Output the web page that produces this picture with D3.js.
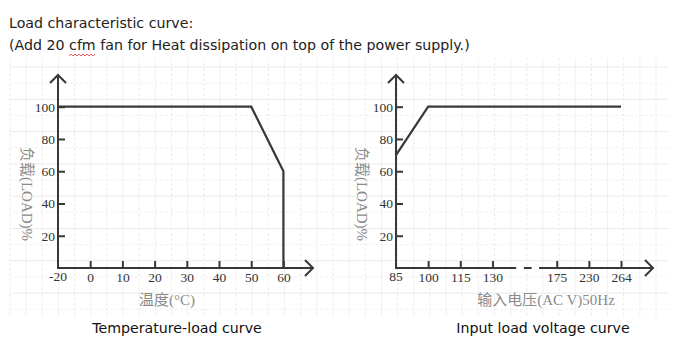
<!DOCTYPE html>
<html>
<head>
<meta charset="utf-8">
<script src="https://cdn.jsdelivr.net/npm/d3@7"></script>
<style>
  html, body { margin: 0; padding: 0; background: #fff; }
  svg { display: block; }
</style>
</head>
<body>
<div id="chart"></div>
<script>
// Temperature derating curve
const tempTicks = ['-20', '0', '10', '20', '30', '40', '50', '60'];
const tempLoad = [
    { t: '-20', load: 100 },
    { t: '50', load: 100 },
    { t: '60', load: 60 },
    { t: '60', load: 0 }
];

// Input voltage derating curve ('gap' is the axis break slot)
const voltSlots = ['85', '100', '115', '130', 'gap', '175', '230', '264'];
const voltLoad = [
    { v: '85', load: 70 },
    { v: '100', load: 100 },
    { v: '264', load: 100 }
];

const loadTicks = [20, 40, 60, 80, 100];

const W = 693, H = 350;
const ink = '#383838';
const serif = '"Liberation Serif", "Noto Sans CJK SC", serif';
const sans = '"DejaVu Sans", Verdana, sans-serif';

const svg = d3.select('#chart').append('svg')
    .attr('width', W)
    .attr('height', H);

// Background grid
const grid = svg.append('g').attr('class', 'grid');
const gx0 = 10, gx1 = 668, gy0 = 58, gy1 = 316;
const gStep = 16.15;
d3.range(gx0, gx1 + 1, gStep).forEach((x, i) => {
    grid.append('line')
        .attr('x1', x).attr('x2', x).attr('y1', gy0).attr('y2', gy1)
        .attr('stroke', i % 2 ? '#f1f1f1' : '#ebebeb')
        .attr('stroke-dasharray', i % 2 ? null : '3,2');
});
d3.range(gy0 + 9, gy1 + 1, gStep).forEach((y, i) => {
    grid.append('line')
        .attr('x1', gx0).attr('x2', gx1).attr('y1', y).attr('y2', y)
        .attr('stroke', i % 2 ? '#f1f1f1' : '#ebebeb')
        .attr('stroke-dasharray', i % 2 ? '3,2' : null);
});

// Title text
svg.append('text')
    .attr('x', 9).attr('y', 28)
    .style('font-family', sans)
    .style('font-size', '14.2px')
    .attr('fill', '#222')
    .text('Load characteristic curve:');
const sub = svg.append('text')
    .attr('x', 9).attr('y', 50)
    .style('font-family', sans)
    .style('font-size', '14.2px')
    .attr('fill', '#222')
    .text('(Add 20 cfm fan for Heat dissipation on top of the power supply.)');

// spell-check squiggle under "cfm"
const subNode = sub.node();
const cfmStart = subNode.textContent.indexOf('cfm');
const sx0 = 9 + subNode.getSubStringLength(0, cfmStart);
const sx1 = sx0 + subNode.getSubStringLength(cfmStart, 3);
const wave = d3.range(sx0, sx1, 2).map((x, i) => [x, i % 2 ? 54 : 56]);
svg.append('path')
    .attr('d', d3.line()(wave))
    .attr('fill', 'none')
    .attr('stroke', '#e03030')
    .attr('stroke-width', 0.8);

const yScale = d3.scaleLinear().domain([0, 100]).range([268, 106.7]);

function styleLabels(sel) {
    sel.attr('fill', '#333')
        .style('font-family', serif)
        .style('font-size', '13.5px');
}

function drawPanel(opts) {
    const g = svg.append('g');
    const x = opts.x;
    const x0 = x.range()[0];
    const y0 = yScale(0);

    // y axis ticks + labels
    g.append('g')
        .attr('transform', 'translate(' + x0 + ',0)')
        .call(d3.axisLeft(yScale).tickValues(loadTicks).tickSize(-7).tickPadding(3))
        .call(a => a.select('.domain').remove())
        .call(a => a.selectAll('line').attr('stroke', ink).attr('stroke-width', 2))
        .call(a => styleLabels(a.selectAll('text')));

    // x axis ticks + labels
    g.append('g')
        .attr('transform', 'translate(0,' + y0 + ')')
        .call(d3.axisBottom(x).tickValues(opts.ticks).tickSize(-7).tickPadding(4))
        .call(a => a.select('.domain').remove())
        .call(a => a.selectAll('line').attr('stroke', ink).attr('stroke-width', 2))
        .call(a => styleLabels(a.selectAll('text')));

    // origin label sits at the axis corner, no tick
    g.append('text')
        .attr('x', x0).attr('y', y0 + 12.5)
        .attr('text-anchor', 'middle')
        .call(styleLabels)
        .text(x.domain()[0]);

    // y axis with arrow
    g.append('path')
        .attr('d', 'M' + x0 + ',' + (y0 + 1) + 'V75M' + (x0 - 8) + ',83L' + x0 + ',75L' + (x0 + 8) + ',83')
        .attr('fill', 'none').attr('stroke', ink).attr('stroke-width', 2);

    // x axis segments with arrow
    const xEnd = opts.xEnd;
    opts.segments.forEach(s => {
        g.append('line')
            .attr('x1', s[0]).attr('x2', s[1]).attr('y1', y0).attr('y2', y0)
            .attr('stroke', ink).attr('stroke-width', 2);
    });
    g.append('path')
        .attr('d', 'M' + (xEnd - 8) + ',' + (y0 - 8) + 'L' + xEnd + ',' + y0 + 'L' + (xEnd - 8) + ',' + (y0 + 8))
        .attr('fill', 'none').attr('stroke', ink).attr('stroke-width', 2);

    // load curve
    g.append('path')
        .datum(opts.data)
        .attr('d', d3.line().x(d => x(d[opts.key])).y(d => yScale(d.load)))
        .attr('fill', 'none').attr('stroke', ink).attr('stroke-width', 2.2)
        .attr('stroke-linejoin', 'miter');

    // axis titles
    g.append('text')
        .attr('transform', 'translate(' + opts.yTitleX + ',194) rotate(90)')
        .attr('text-anchor', 'middle')
        .attr('dy', '0.35em')
        .attr('fill', '#8a8a8a')
        .style('font-family', serif)
        .style('font-size', '15px')
        .text('负载(LOAD)%');
    g.append('text')
        .attr('x', opts.xTitleX).attr('y', 305)
        .attr('text-anchor', 'middle')
        .attr('fill', '#8a8a8a')
        .style('font-family', serif)
        .style('font-size', '15px')
        .text(opts.xTitle);

    // caption
    g.append('text')
        .attr('x', opts.captionX).attr('y', 333)
        .attr('text-anchor', 'middle')
        .attr('fill', '#111')
        .style('font-family', sans)
        .style('font-size', '14.2px')
        .text(opts.caption);
}

// Left panel: temperature
const xTemp = d3.scalePoint().domain(tempTicks).range([58, 283.4]);
drawPanel({
    x: xTemp,
    ticks: tempTicks.slice(1),
    data: tempLoad,
    key: 't',
    xEnd: 313,
    segments: [[57, 313]],
    yTitleX: 27,
    xTitleX: 167,
    xTitle: '温度(°C)',
    captionX: 177,
    caption: 'Temperature-load curve'
});

// Right panel: input voltage
const xVolt = d3.scalePoint().domain(voltSlots).range([396, 621]);
const vStep = xVolt.step();
const vGap = xVolt('gap');
drawPanel({
    x: xVolt,
    ticks: voltSlots.filter(v => v !== '85' && v !== 'gap'),
    data: voltLoad,
    key: 'v',
    xEnd: 653,
    segments: [[395, vGap - 0.26 * vStep], [vGap - 0.02 * vStep, vGap + 0.22 * vStep], [vGap + 0.45 * vStep, 653]],
    yTitleX: 362,
    xTitleX: 546,
    xTitle: '输入电压(AC V)50Hz',
    captionX: 543,
    caption: 'Input load voltage curve'
});
</script>
</body>
</html>
